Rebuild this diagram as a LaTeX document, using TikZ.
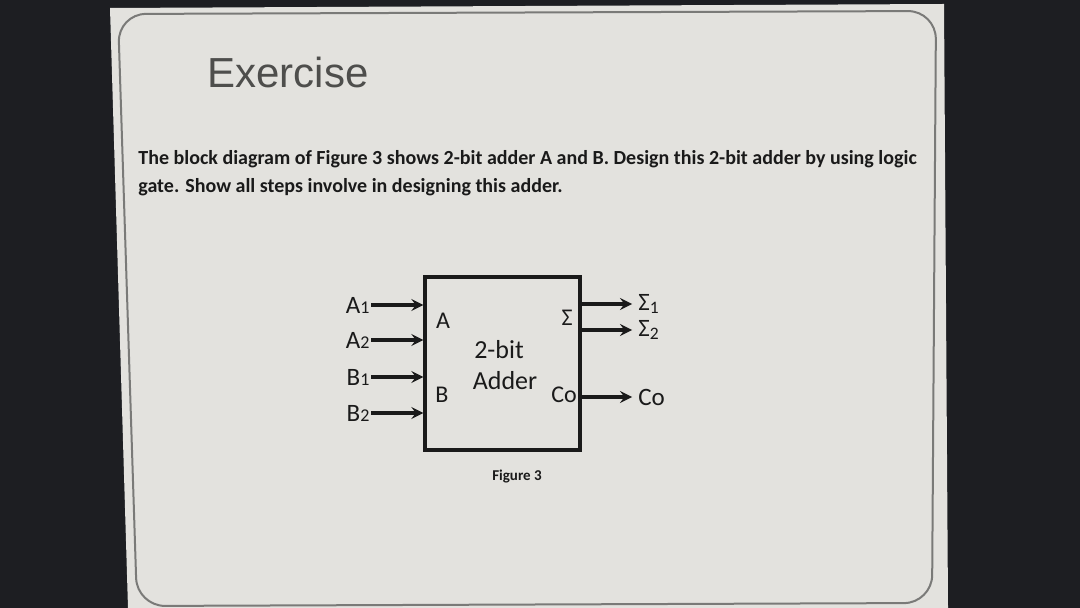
\documentclass[tikz,border=0pt]{standalone}
\usepackage{fontspec}
\setmainfont{Carlito}
\newfontfamily\titlefont{Liberation Sans}
\usetikzlibrary{positioning}
\definecolor{screen}{HTML}{1D1E22}
\definecolor{slide}{HTML}{E3E2DE}
\definecolor{frame}{HTML}{7A7A78}
\definecolor{titlegray}{HTML}{4E4E4C}
\definecolor{ink}{HTML}{1A1A1A}

\begin{document}
\begin{tikzpicture}[x=0.5pt,y=-0.5pt,
    wire/.style={->, >=stealth, line width=1.6pt, color=ink},
    pin/.style={inner sep=0.6pt, text=ink, font=\fontsize{12.5}{13}\selectfont},
    port/.style={inner sep=0pt, text=ink, font=\fontsize{12}{13}\selectfont}]
    \useasboundingbox (0,0) rectangle (1080,608);
    \fill [screen] (0,0) rectangle (1080,608);
    \fill [slide] (110,8) -- (944,4) -- (948,608) -- (128,608) -- cycle;
    \draw [frame, line width=1pt, rounded corners=14pt] (118,14) -- (936,11) -- (932,603) -- (137,606) -- cycle;
    % title and task text
    \node [anchor=base west, inner sep=0pt, text=titlegray, font=\titlefont\fontsize{21}{25}\selectfont] (title) at (207,88) {Exercise};
    \node [anchor=base west, inner sep=0pt, text=ink, font=\bfseries\fontsize{10}{12}\selectfont] (task1) at (138,165) {The block diagram of Figure 3 shows 2-bit adder A and B. Design this 2-bit adder by using logic};
    \node [anchor=base west, inner sep=0pt, text=ink, font=\bfseries\fontsize{10}{12}\selectfont] (task2) at ([yshift=-14pt]task1.base west) {gate. Show all steps involve in designing this adder.};
    % block
    \node [draw=ink, line width=1.6pt, minimum width=77.5pt, minimum height=86.5pt] (adder) at (502.5,363.5) {};
    \node [port] (pa) at (443,321) {A};
    \node [port] (pb) at (442,395) {B};
    \node [port, font=\fontsize{13}{14}\selectfont] (bits) at (499,350) {2-bit};
    \node [port, font=\fontsize{13}{14}\selectfont] (kind) at (505,381) {Adder};
    \node [port] (psum) at (567,318) {Σ};
    \node [port] (pco) at (564,395) {Co};
    % inputs
    \node [pin, anchor=east] (a1) at (371,305) {A{\fontsize{9}{9}\selectfont 1}};
    \node [pin, anchor=east] (a2) at (371,340) {A{\fontsize{9}{9}\selectfont 2}};
    \node [pin, anchor=east] (b1) at (371,377) {B{\fontsize{9}{9}\selectfont 1}};
    \node [pin, anchor=east] (b2) at (371,413) {B{\fontsize{9}{9}\selectfont 2}};
    \foreach \n in {a1,a2,b1,b2}
    \draw [wire] (\n) -- (\n -| adder.west);
    % outputs
    \node [pin, anchor=west, inner sep=3pt] (s1) at (632,304) {Σ\textsubscript{1}};
    \node [pin, anchor=west, inner sep=3pt] (s2) at (632,330) {Σ\textsubscript{2}};
    \node [pin, anchor=west, inner sep=3pt] (co) at (632,397) {Co};
    \foreach \n in {s1,s2,co}
    \draw [wire] (\n -| adder.east) -- (\n);
    \node [inner sep=0pt, text=ink, font=\bfseries\fontsize{7.5}{9}\selectfont] (caption) at (517,477) {Figure 3};
\end{tikzpicture}
\end{document}
